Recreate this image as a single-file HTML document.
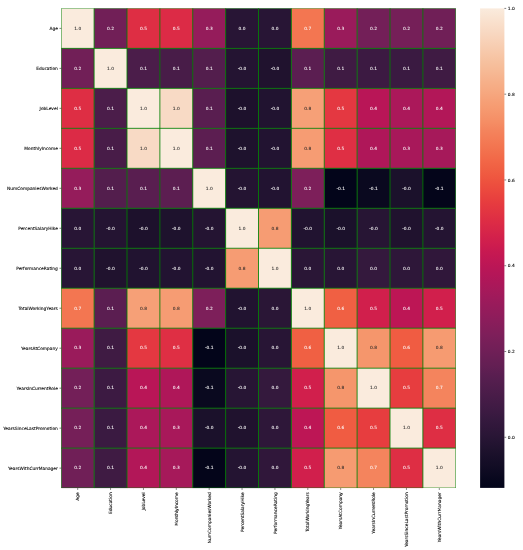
<!DOCTYPE html>
<html><head><meta charset="utf-8"><title>Correlation heatmap</title>
<style>html,body{margin:0;padding:0;background:#fff}svg{display:block}</style></head>
<body>
<svg width="523" height="550" viewBox="0 0 523 550">
<rect width="523" height="550" fill="#fff"/>
<g>
<rect x="61.25" y="8.40" width="33.17" height="40.27" fill="#faebdd"/>
<rect x="94.12" y="8.40" width="33.17" height="40.27" fill="#711f57"/>
<rect x="127.00" y="8.40" width="33.17" height="40.27" fill="#de2e44"/>
<rect x="159.88" y="8.40" width="33.17" height="40.27" fill="#dc2b46"/>
<rect x="192.75" y="8.40" width="33.17" height="40.27" fill="#951c5b"/>
<rect x="225.62" y="8.40" width="33.17" height="40.27" fill="#281535"/>
<rect x="258.50" y="8.40" width="33.17" height="40.27" fill="#281535"/>
<rect x="291.38" y="8.40" width="33.17" height="40.27" fill="#f37651"/>
<rect x="324.25" y="8.40" width="33.17" height="40.27" fill="#9a1b5b"/>
<rect x="357.12" y="8.40" width="33.17" height="40.27" fill="#731f58"/>
<rect x="390.00" y="8.40" width="33.17" height="40.27" fill="#751f58"/>
<rect x="422.88" y="8.40" width="32.88" height="40.27" fill="#701f57"/>
<rect x="61.25" y="48.38" width="33.17" height="40.27" fill="#711f57"/>
<rect x="94.12" y="48.38" width="33.17" height="40.27" fill="#faebdd"/>
<rect x="127.00" y="48.38" width="33.17" height="40.27" fill="#4b1d4a"/>
<rect x="159.88" y="48.38" width="33.17" height="40.27" fill="#481c48"/>
<rect x="192.75" y="48.38" width="33.17" height="40.27" fill="#531e4d"/>
<rect x="225.62" y="48.38" width="33.17" height="40.27" fill="#241432"/>
<rect x="258.50" y="48.38" width="33.17" height="40.27" fill="#20122e"/>
<rect x="291.38" y="48.38" width="33.17" height="40.27" fill="#5b1e51"/>
<rect x="324.25" y="48.38" width="33.17" height="40.27" fill="#3f1b43"/>
<rect x="357.12" y="48.38" width="33.17" height="40.27" fill="#3c1a42"/>
<rect x="390.00" y="48.38" width="33.17" height="40.27" fill="#3a1a41"/>
<rect x="422.88" y="48.38" width="32.88" height="40.27" fill="#3f1b43"/>
<rect x="61.25" y="88.35" width="33.17" height="40.27" fill="#de2e44"/>
<rect x="94.12" y="88.35" width="33.17" height="40.27" fill="#4b1d4a"/>
<rect x="127.00" y="88.35" width="33.17" height="40.27" fill="#faebdd"/>
<rect x="159.88" y="88.35" width="33.17" height="40.27" fill="#f8dac5"/>
<rect x="192.75" y="88.35" width="33.17" height="40.27" fill="#591e50"/>
<rect x="225.62" y="88.35" width="33.17" height="40.27" fill="#1d112c"/>
<rect x="258.50" y="88.35" width="33.17" height="40.27" fill="#211330"/>
<rect x="291.38" y="88.35" width="33.17" height="40.27" fill="#f6a077"/>
<rect x="324.25" y="88.35" width="33.17" height="40.27" fill="#e43841"/>
<rect x="357.12" y="88.35" width="33.17" height="40.27" fill="#b91657"/>
<rect x="390.00" y="88.35" width="33.17" height="40.27" fill="#ab185a"/>
<rect x="422.88" y="88.35" width="32.88" height="40.27" fill="#b21758"/>
<rect x="61.25" y="128.33" width="33.17" height="40.27" fill="#dc2b46"/>
<rect x="94.12" y="128.33" width="33.17" height="40.27" fill="#481c48"/>
<rect x="127.00" y="128.33" width="33.17" height="40.27" fill="#f8dac5"/>
<rect x="159.88" y="128.33" width="33.17" height="40.27" fill="#faebdd"/>
<rect x="192.75" y="128.33" width="33.17" height="40.27" fill="#5c1e51"/>
<rect x="225.62" y="128.33" width="33.17" height="40.27" fill="#1e122d"/>
<rect x="258.50" y="128.33" width="33.17" height="40.27" fill="#221331"/>
<rect x="291.38" y="128.33" width="33.17" height="40.27" fill="#f69c73"/>
<rect x="324.25" y="128.33" width="33.17" height="40.27" fill="#df2f44"/>
<rect x="357.12" y="128.33" width="33.17" height="40.27" fill="#af1759"/>
<rect x="390.00" y="128.33" width="33.17" height="40.27" fill="#a8185a"/>
<rect x="422.88" y="128.33" width="32.88" height="40.27" fill="#a6195a"/>
<rect x="61.25" y="168.30" width="33.17" height="40.27" fill="#951c5b"/>
<rect x="94.12" y="168.30" width="33.17" height="40.27" fill="#531e4d"/>
<rect x="127.00" y="168.30" width="33.17" height="40.27" fill="#591e50"/>
<rect x="159.88" y="168.30" width="33.17" height="40.27" fill="#5c1e51"/>
<rect x="192.75" y="168.30" width="33.17" height="40.27" fill="#faebdd"/>
<rect x="225.62" y="168.30" width="33.17" height="40.27" fill="#241432"/>
<rect x="258.50" y="168.30" width="33.17" height="40.27" fill="#221331"/>
<rect x="291.38" y="168.30" width="33.17" height="40.27" fill="#7d1f5a"/>
<rect x="324.25" y="168.30" width="33.17" height="40.27" fill="#03051a"/>
<rect x="357.12" y="168.30" width="33.17" height="40.27" fill="#0a091f"/>
<rect x="390.00" y="168.30" width="33.17" height="40.27" fill="#1b112b"/>
<rect x="422.88" y="168.30" width="32.88" height="40.27" fill="#04051a"/>
<rect x="61.25" y="208.28" width="33.17" height="40.27" fill="#281535"/>
<rect x="94.12" y="208.28" width="33.17" height="40.27" fill="#241432"/>
<rect x="127.00" y="208.28" width="33.17" height="40.27" fill="#1d112c"/>
<rect x="159.88" y="208.28" width="33.17" height="40.27" fill="#1e122d"/>
<rect x="192.75" y="208.28" width="33.17" height="40.27" fill="#241432"/>
<rect x="225.62" y="208.28" width="33.17" height="40.27" fill="#faebdd"/>
<rect x="258.50" y="208.28" width="33.17" height="40.27" fill="#f69c73"/>
<rect x="291.38" y="208.28" width="33.17" height="40.27" fill="#211330"/>
<rect x="324.25" y="208.28" width="33.17" height="40.27" fill="#1b112b"/>
<rect x="357.12" y="208.28" width="33.17" height="40.27" fill="#271534"/>
<rect x="390.00" y="208.28" width="33.17" height="40.27" fill="#20122e"/>
<rect x="422.88" y="208.28" width="32.88" height="40.27" fill="#241432"/>
<rect x="61.25" y="248.25" width="33.17" height="40.27" fill="#281535"/>
<rect x="94.12" y="248.25" width="33.17" height="40.27" fill="#20122e"/>
<rect x="127.00" y="248.25" width="33.17" height="40.27" fill="#211330"/>
<rect x="159.88" y="248.25" width="33.17" height="40.27" fill="#221331"/>
<rect x="192.75" y="248.25" width="33.17" height="40.27" fill="#221331"/>
<rect x="225.62" y="248.25" width="33.17" height="40.27" fill="#f69c73"/>
<rect x="258.50" y="248.25" width="33.17" height="40.27" fill="#faebdd"/>
<rect x="291.38" y="248.25" width="33.17" height="40.27" fill="#2a1636"/>
<rect x="324.25" y="248.25" width="33.17" height="40.27" fill="#281535"/>
<rect x="357.12" y="248.25" width="33.17" height="40.27" fill="#34193d"/>
<rect x="390.00" y="248.25" width="33.17" height="40.27" fill="#2e1739"/>
<rect x="422.88" y="248.25" width="32.88" height="40.27" fill="#30173a"/>
<rect x="61.25" y="288.22" width="33.17" height="40.27" fill="#f37651"/>
<rect x="94.12" y="288.22" width="33.17" height="40.27" fill="#5b1e51"/>
<rect x="127.00" y="288.22" width="33.17" height="40.27" fill="#f6a077"/>
<rect x="159.88" y="288.22" width="33.17" height="40.27" fill="#f69c73"/>
<rect x="192.75" y="288.22" width="33.17" height="40.27" fill="#7d1f5a"/>
<rect x="225.62" y="288.22" width="33.17" height="40.27" fill="#211330"/>
<rect x="258.50" y="288.22" width="33.17" height="40.27" fill="#2a1636"/>
<rect x="291.38" y="288.22" width="33.17" height="40.27" fill="#faebdd"/>
<rect x="324.25" y="288.22" width="33.17" height="40.27" fill="#f06043"/>
<rect x="357.12" y="288.22" width="33.17" height="40.27" fill="#d11f4c"/>
<rect x="390.00" y="288.22" width="33.17" height="40.27" fill="#bd1655"/>
<rect x="422.88" y="288.22" width="32.88" height="40.27" fill="#d11f4c"/>
<rect x="61.25" y="328.20" width="33.17" height="40.27" fill="#9a1b5b"/>
<rect x="94.12" y="328.20" width="33.17" height="40.27" fill="#3f1b43"/>
<rect x="127.00" y="328.20" width="33.17" height="40.27" fill="#e43841"/>
<rect x="159.88" y="328.20" width="33.17" height="40.27" fill="#df2f44"/>
<rect x="192.75" y="328.20" width="33.17" height="40.27" fill="#03051a"/>
<rect x="225.62" y="328.20" width="33.17" height="40.27" fill="#1b112b"/>
<rect x="258.50" y="328.20" width="33.17" height="40.27" fill="#281535"/>
<rect x="291.38" y="328.20" width="33.17" height="40.27" fill="#f06043"/>
<rect x="324.25" y="328.20" width="33.17" height="40.27" fill="#faebdd"/>
<rect x="357.12" y="328.20" width="33.17" height="40.27" fill="#f5966c"/>
<rect x="390.00" y="328.20" width="33.17" height="40.27" fill="#f05c42"/>
<rect x="422.88" y="328.20" width="32.88" height="40.27" fill="#f69b71"/>
<rect x="61.25" y="368.18" width="33.17" height="40.27" fill="#731f58"/>
<rect x="94.12" y="368.18" width="33.17" height="40.27" fill="#3c1a42"/>
<rect x="127.00" y="368.18" width="33.17" height="40.27" fill="#b91657"/>
<rect x="159.88" y="368.18" width="33.17" height="40.27" fill="#af1759"/>
<rect x="192.75" y="368.18" width="33.17" height="40.27" fill="#0a091f"/>
<rect x="225.62" y="368.18" width="33.17" height="40.27" fill="#271534"/>
<rect x="258.50" y="368.18" width="33.17" height="40.27" fill="#34193d"/>
<rect x="291.38" y="368.18" width="33.17" height="40.27" fill="#d11f4c"/>
<rect x="324.25" y="368.18" width="33.17" height="40.27" fill="#f5966c"/>
<rect x="357.12" y="368.18" width="33.17" height="40.27" fill="#faebdd"/>
<rect x="390.00" y="368.18" width="33.17" height="40.27" fill="#e73d3f"/>
<rect x="422.88" y="368.18" width="32.88" height="40.27" fill="#f4845d"/>
<rect x="61.25" y="408.15" width="33.17" height="40.27" fill="#751f58"/>
<rect x="94.12" y="408.15" width="33.17" height="40.27" fill="#3a1a41"/>
<rect x="127.00" y="408.15" width="33.17" height="40.27" fill="#ab185a"/>
<rect x="159.88" y="408.15" width="33.17" height="40.27" fill="#a8185a"/>
<rect x="192.75" y="408.15" width="33.17" height="40.27" fill="#1b112b"/>
<rect x="225.62" y="408.15" width="33.17" height="40.27" fill="#20122e"/>
<rect x="258.50" y="408.15" width="33.17" height="40.27" fill="#2e1739"/>
<rect x="291.38" y="408.15" width="33.17" height="40.27" fill="#bd1655"/>
<rect x="324.25" y="408.15" width="33.17" height="40.27" fill="#f05c42"/>
<rect x="357.12" y="408.15" width="33.17" height="40.27" fill="#e73d3f"/>
<rect x="390.00" y="408.15" width="33.17" height="40.27" fill="#faebdd"/>
<rect x="422.88" y="408.15" width="32.88" height="40.27" fill="#de2e44"/>
<rect x="61.25" y="448.12" width="33.17" height="39.98" fill="#701f57"/>
<rect x="94.12" y="448.12" width="33.17" height="39.98" fill="#3f1b43"/>
<rect x="127.00" y="448.12" width="33.17" height="39.98" fill="#b21758"/>
<rect x="159.88" y="448.12" width="33.17" height="39.98" fill="#a6195a"/>
<rect x="192.75" y="448.12" width="33.17" height="39.98" fill="#04051a"/>
<rect x="225.62" y="448.12" width="33.17" height="39.98" fill="#241432"/>
<rect x="258.50" y="448.12" width="33.17" height="39.98" fill="#30173a"/>
<rect x="291.38" y="448.12" width="33.17" height="39.98" fill="#d11f4c"/>
<rect x="324.25" y="448.12" width="33.17" height="39.98" fill="#f69b71"/>
<rect x="357.12" y="448.12" width="33.17" height="39.98" fill="#f4845d"/>
<rect x="390.00" y="448.12" width="33.17" height="39.98" fill="#de2e44"/>
<rect x="422.88" y="448.12" width="32.88" height="39.98" fill="#faebdd"/>
</g>
<defs><clipPath id="gc"><rect x="61.25" y="8.40" width="394.50" height="479.70"/></clipPath></defs>
<g stroke="#008000" stroke-width="0.85" fill="none" stroke-linecap="square" clip-path="url(#gc)">
<line x1="61.25" y1="8.40" x2="61.25" y2="488.10"/>
<line x1="61.25" y1="8.40" x2="455.75" y2="8.40"/>
<line x1="94.12" y1="8.40" x2="94.12" y2="488.10"/>
<line x1="61.25" y1="48.38" x2="455.75" y2="48.38"/>
<line x1="127.00" y1="8.40" x2="127.00" y2="488.10"/>
<line x1="61.25" y1="88.35" x2="455.75" y2="88.35"/>
<line x1="159.88" y1="8.40" x2="159.88" y2="488.10"/>
<line x1="61.25" y1="128.33" x2="455.75" y2="128.33"/>
<line x1="192.75" y1="8.40" x2="192.75" y2="488.10"/>
<line x1="61.25" y1="168.30" x2="455.75" y2="168.30"/>
<line x1="225.62" y1="8.40" x2="225.62" y2="488.10"/>
<line x1="61.25" y1="208.28" x2="455.75" y2="208.28"/>
<line x1="258.50" y1="8.40" x2="258.50" y2="488.10"/>
<line x1="61.25" y1="248.25" x2="455.75" y2="248.25"/>
<line x1="291.38" y1="8.40" x2="291.38" y2="488.10"/>
<line x1="61.25" y1="288.22" x2="455.75" y2="288.22"/>
<line x1="324.25" y1="8.40" x2="324.25" y2="488.10"/>
<line x1="61.25" y1="328.20" x2="455.75" y2="328.20"/>
<line x1="357.12" y1="8.40" x2="357.12" y2="488.10"/>
<line x1="61.25" y1="368.18" x2="455.75" y2="368.18"/>
<line x1="390.00" y1="8.40" x2="390.00" y2="488.10"/>
<line x1="61.25" y1="408.15" x2="455.75" y2="408.15"/>
<line x1="422.88" y1="8.40" x2="422.88" y2="488.10"/>
<line x1="61.25" y1="448.12" x2="455.75" y2="448.12"/>
<line x1="455.75" y1="8.40" x2="455.75" y2="488.10"/>
<line x1="61.25" y1="488.10" x2="455.75" y2="488.10"/>
</g>
<g font-family="DejaVu Sans, Liberation Sans, sans-serif" text-rendering="geometricPrecision" font-size="4.36" text-anchor="middle" stroke-width="0.05">
<text x="77.69" y="29.68" fill="#262626" stroke="#262626">1.0</text>
<text x="110.56" y="29.68" fill="#ffffff" stroke="#ffffff">0.2</text>
<text x="143.44" y="29.68" fill="#ffffff" stroke="#ffffff">0.5</text>
<text x="176.31" y="29.68" fill="#ffffff" stroke="#ffffff">0.5</text>
<text x="209.19" y="29.68" fill="#ffffff" stroke="#ffffff">0.3</text>
<text x="242.06" y="29.68" fill="#ffffff" stroke="#ffffff">0.0</text>
<text x="274.94" y="29.68" fill="#ffffff" stroke="#ffffff">0.0</text>
<text x="307.81" y="29.68" fill="#ffffff" stroke="#ffffff">0.7</text>
<text x="340.69" y="29.68" fill="#ffffff" stroke="#ffffff">0.3</text>
<text x="373.56" y="29.68" fill="#ffffff" stroke="#ffffff">0.2</text>
<text x="406.44" y="29.68" fill="#ffffff" stroke="#ffffff">0.2</text>
<text x="439.31" y="29.68" fill="#ffffff" stroke="#ffffff">0.2</text>
<text x="77.69" y="69.65" fill="#ffffff" stroke="#ffffff">0.2</text>
<text x="110.56" y="69.65" fill="#262626" stroke="#262626">1.0</text>
<text x="143.44" y="69.65" fill="#ffffff" stroke="#ffffff">0.1</text>
<text x="176.31" y="69.65" fill="#ffffff" stroke="#ffffff">0.1</text>
<text x="209.19" y="69.65" fill="#ffffff" stroke="#ffffff">0.1</text>
<text x="242.06" y="69.65" fill="#ffffff" stroke="#ffffff">-0.0</text>
<text x="274.94" y="69.65" fill="#ffffff" stroke="#ffffff">-0.0</text>
<text x="307.81" y="69.65" fill="#ffffff" stroke="#ffffff">0.1</text>
<text x="340.69" y="69.65" fill="#ffffff" stroke="#ffffff">0.1</text>
<text x="373.56" y="69.65" fill="#ffffff" stroke="#ffffff">0.1</text>
<text x="406.44" y="69.65" fill="#ffffff" stroke="#ffffff">0.1</text>
<text x="439.31" y="69.65" fill="#ffffff" stroke="#ffffff">0.1</text>
<text x="77.69" y="109.63" fill="#ffffff" stroke="#ffffff">0.5</text>
<text x="110.56" y="109.63" fill="#ffffff" stroke="#ffffff">0.1</text>
<text x="143.44" y="109.63" fill="#262626" stroke="#262626">1.0</text>
<text x="176.31" y="109.63" fill="#262626" stroke="#262626">1.0</text>
<text x="209.19" y="109.63" fill="#ffffff" stroke="#ffffff">0.1</text>
<text x="242.06" y="109.63" fill="#ffffff" stroke="#ffffff">-0.0</text>
<text x="274.94" y="109.63" fill="#ffffff" stroke="#ffffff">-0.0</text>
<text x="307.81" y="109.63" fill="#262626" stroke="#262626">0.8</text>
<text x="340.69" y="109.63" fill="#ffffff" stroke="#ffffff">0.5</text>
<text x="373.56" y="109.63" fill="#ffffff" stroke="#ffffff">0.4</text>
<text x="406.44" y="109.63" fill="#ffffff" stroke="#ffffff">0.4</text>
<text x="439.31" y="109.63" fill="#ffffff" stroke="#ffffff">0.4</text>
<text x="77.69" y="149.60" fill="#ffffff" stroke="#ffffff">0.5</text>
<text x="110.56" y="149.60" fill="#ffffff" stroke="#ffffff">0.1</text>
<text x="143.44" y="149.60" fill="#262626" stroke="#262626">1.0</text>
<text x="176.31" y="149.60" fill="#262626" stroke="#262626">1.0</text>
<text x="209.19" y="149.60" fill="#ffffff" stroke="#ffffff">0.1</text>
<text x="242.06" y="149.60" fill="#ffffff" stroke="#ffffff">-0.0</text>
<text x="274.94" y="149.60" fill="#ffffff" stroke="#ffffff">-0.0</text>
<text x="307.81" y="149.60" fill="#262626" stroke="#262626">0.8</text>
<text x="340.69" y="149.60" fill="#ffffff" stroke="#ffffff">0.5</text>
<text x="373.56" y="149.60" fill="#ffffff" stroke="#ffffff">0.4</text>
<text x="406.44" y="149.60" fill="#ffffff" stroke="#ffffff">0.3</text>
<text x="439.31" y="149.60" fill="#ffffff" stroke="#ffffff">0.3</text>
<text x="77.69" y="189.58" fill="#ffffff" stroke="#ffffff">0.3</text>
<text x="110.56" y="189.58" fill="#ffffff" stroke="#ffffff">0.1</text>
<text x="143.44" y="189.58" fill="#ffffff" stroke="#ffffff">0.1</text>
<text x="176.31" y="189.58" fill="#ffffff" stroke="#ffffff">0.1</text>
<text x="209.19" y="189.58" fill="#262626" stroke="#262626">1.0</text>
<text x="242.06" y="189.58" fill="#ffffff" stroke="#ffffff">-0.0</text>
<text x="274.94" y="189.58" fill="#ffffff" stroke="#ffffff">-0.0</text>
<text x="307.81" y="189.58" fill="#ffffff" stroke="#ffffff">0.2</text>
<text x="340.69" y="189.58" fill="#ffffff" stroke="#ffffff">-0.1</text>
<text x="373.56" y="189.58" fill="#ffffff" stroke="#ffffff">-0.1</text>
<text x="406.44" y="189.58" fill="#ffffff" stroke="#ffffff">-0.0</text>
<text x="439.31" y="189.58" fill="#ffffff" stroke="#ffffff">-0.1</text>
<text x="77.69" y="229.55" fill="#ffffff" stroke="#ffffff">0.0</text>
<text x="110.56" y="229.55" fill="#ffffff" stroke="#ffffff">-0.0</text>
<text x="143.44" y="229.55" fill="#ffffff" stroke="#ffffff">-0.0</text>
<text x="176.31" y="229.55" fill="#ffffff" stroke="#ffffff">-0.0</text>
<text x="209.19" y="229.55" fill="#ffffff" stroke="#ffffff">-0.0</text>
<text x="242.06" y="229.55" fill="#262626" stroke="#262626">1.0</text>
<text x="274.94" y="229.55" fill="#262626" stroke="#262626">0.8</text>
<text x="307.81" y="229.55" fill="#ffffff" stroke="#ffffff">-0.0</text>
<text x="340.69" y="229.55" fill="#ffffff" stroke="#ffffff">-0.0</text>
<text x="373.56" y="229.55" fill="#ffffff" stroke="#ffffff">-0.0</text>
<text x="406.44" y="229.55" fill="#ffffff" stroke="#ffffff">-0.0</text>
<text x="439.31" y="229.55" fill="#ffffff" stroke="#ffffff">-0.0</text>
<text x="77.69" y="269.53" fill="#ffffff" stroke="#ffffff">0.0</text>
<text x="110.56" y="269.53" fill="#ffffff" stroke="#ffffff">-0.0</text>
<text x="143.44" y="269.53" fill="#ffffff" stroke="#ffffff">-0.0</text>
<text x="176.31" y="269.53" fill="#ffffff" stroke="#ffffff">-0.0</text>
<text x="209.19" y="269.53" fill="#ffffff" stroke="#ffffff">-0.0</text>
<text x="242.06" y="269.53" fill="#262626" stroke="#262626">0.8</text>
<text x="274.94" y="269.53" fill="#262626" stroke="#262626">1.0</text>
<text x="307.81" y="269.53" fill="#ffffff" stroke="#ffffff">0.0</text>
<text x="340.69" y="269.53" fill="#ffffff" stroke="#ffffff">0.0</text>
<text x="373.56" y="269.53" fill="#ffffff" stroke="#ffffff">0.0</text>
<text x="406.44" y="269.53" fill="#ffffff" stroke="#ffffff">0.0</text>
<text x="439.31" y="269.53" fill="#ffffff" stroke="#ffffff">0.0</text>
<text x="77.69" y="309.50" fill="#ffffff" stroke="#ffffff">0.7</text>
<text x="110.56" y="309.50" fill="#ffffff" stroke="#ffffff">0.1</text>
<text x="143.44" y="309.50" fill="#262626" stroke="#262626">0.8</text>
<text x="176.31" y="309.50" fill="#262626" stroke="#262626">0.8</text>
<text x="209.19" y="309.50" fill="#ffffff" stroke="#ffffff">0.2</text>
<text x="242.06" y="309.50" fill="#ffffff" stroke="#ffffff">-0.0</text>
<text x="274.94" y="309.50" fill="#ffffff" stroke="#ffffff">0.0</text>
<text x="307.81" y="309.50" fill="#262626" stroke="#262626">1.0</text>
<text x="340.69" y="309.50" fill="#ffffff" stroke="#ffffff">0.6</text>
<text x="373.56" y="309.50" fill="#ffffff" stroke="#ffffff">0.5</text>
<text x="406.44" y="309.50" fill="#ffffff" stroke="#ffffff">0.4</text>
<text x="439.31" y="309.50" fill="#ffffff" stroke="#ffffff">0.5</text>
<text x="77.69" y="349.48" fill="#ffffff" stroke="#ffffff">0.3</text>
<text x="110.56" y="349.48" fill="#ffffff" stroke="#ffffff">0.1</text>
<text x="143.44" y="349.48" fill="#ffffff" stroke="#ffffff">0.5</text>
<text x="176.31" y="349.48" fill="#ffffff" stroke="#ffffff">0.5</text>
<text x="209.19" y="349.48" fill="#ffffff" stroke="#ffffff">-0.1</text>
<text x="242.06" y="349.48" fill="#ffffff" stroke="#ffffff">-0.0</text>
<text x="274.94" y="349.48" fill="#ffffff" stroke="#ffffff">0.0</text>
<text x="307.81" y="349.48" fill="#ffffff" stroke="#ffffff">0.6</text>
<text x="340.69" y="349.48" fill="#262626" stroke="#262626">1.0</text>
<text x="373.56" y="349.48" fill="#262626" stroke="#262626">0.8</text>
<text x="406.44" y="349.48" fill="#ffffff" stroke="#ffffff">0.6</text>
<text x="439.31" y="349.48" fill="#262626" stroke="#262626">0.8</text>
<text x="77.69" y="389.45" fill="#ffffff" stroke="#ffffff">0.2</text>
<text x="110.56" y="389.45" fill="#ffffff" stroke="#ffffff">0.1</text>
<text x="143.44" y="389.45" fill="#ffffff" stroke="#ffffff">0.4</text>
<text x="176.31" y="389.45" fill="#ffffff" stroke="#ffffff">0.4</text>
<text x="209.19" y="389.45" fill="#ffffff" stroke="#ffffff">-0.1</text>
<text x="242.06" y="389.45" fill="#ffffff" stroke="#ffffff">-0.0</text>
<text x="274.94" y="389.45" fill="#ffffff" stroke="#ffffff">0.0</text>
<text x="307.81" y="389.45" fill="#ffffff" stroke="#ffffff">0.5</text>
<text x="340.69" y="389.45" fill="#262626" stroke="#262626">0.8</text>
<text x="373.56" y="389.45" fill="#262626" stroke="#262626">1.0</text>
<text x="406.44" y="389.45" fill="#ffffff" stroke="#ffffff">0.5</text>
<text x="439.31" y="389.45" fill="#ffffff" stroke="#ffffff">0.7</text>
<text x="77.69" y="429.43" fill="#ffffff" stroke="#ffffff">0.2</text>
<text x="110.56" y="429.43" fill="#ffffff" stroke="#ffffff">0.1</text>
<text x="143.44" y="429.43" fill="#ffffff" stroke="#ffffff">0.4</text>
<text x="176.31" y="429.43" fill="#ffffff" stroke="#ffffff">0.3</text>
<text x="209.19" y="429.43" fill="#ffffff" stroke="#ffffff">-0.0</text>
<text x="242.06" y="429.43" fill="#ffffff" stroke="#ffffff">-0.0</text>
<text x="274.94" y="429.43" fill="#ffffff" stroke="#ffffff">0.0</text>
<text x="307.81" y="429.43" fill="#ffffff" stroke="#ffffff">0.4</text>
<text x="340.69" y="429.43" fill="#ffffff" stroke="#ffffff">0.6</text>
<text x="373.56" y="429.43" fill="#ffffff" stroke="#ffffff">0.5</text>
<text x="406.44" y="429.43" fill="#262626" stroke="#262626">1.0</text>
<text x="439.31" y="429.43" fill="#ffffff" stroke="#ffffff">0.5</text>
<text x="77.69" y="469.40" fill="#ffffff" stroke="#ffffff">0.2</text>
<text x="110.56" y="469.40" fill="#ffffff" stroke="#ffffff">0.1</text>
<text x="143.44" y="469.40" fill="#ffffff" stroke="#ffffff">0.4</text>
<text x="176.31" y="469.40" fill="#ffffff" stroke="#ffffff">0.3</text>
<text x="209.19" y="469.40" fill="#ffffff" stroke="#ffffff">-0.1</text>
<text x="242.06" y="469.40" fill="#ffffff" stroke="#ffffff">-0.0</text>
<text x="274.94" y="469.40" fill="#ffffff" stroke="#ffffff">0.0</text>
<text x="307.81" y="469.40" fill="#ffffff" stroke="#ffffff">0.5</text>
<text x="340.69" y="469.40" fill="#262626" stroke="#262626">0.8</text>
<text x="373.56" y="469.40" fill="#ffffff" stroke="#ffffff">0.7</text>
<text x="406.44" y="469.40" fill="#ffffff" stroke="#ffffff">0.5</text>
<text x="439.31" y="469.40" fill="#262626" stroke="#262626">1.0</text>
</g>
<g stroke="#000" stroke-width="0.5">
<line x1="59.45" y1="28.39" x2="61.25" y2="28.39"/>
<line x1="77.69" y1="488.10" x2="77.69" y2="489.90"/>
<line x1="59.45" y1="68.36" x2="61.25" y2="68.36"/>
<line x1="110.56" y1="488.10" x2="110.56" y2="489.90"/>
<line x1="59.45" y1="108.34" x2="61.25" y2="108.34"/>
<line x1="143.44" y1="488.10" x2="143.44" y2="489.90"/>
<line x1="59.45" y1="148.31" x2="61.25" y2="148.31"/>
<line x1="176.31" y1="488.10" x2="176.31" y2="489.90"/>
<line x1="59.45" y1="188.29" x2="61.25" y2="188.29"/>
<line x1="209.19" y1="488.10" x2="209.19" y2="489.90"/>
<line x1="59.45" y1="228.26" x2="61.25" y2="228.26"/>
<line x1="242.06" y1="488.10" x2="242.06" y2="489.90"/>
<line x1="59.45" y1="268.24" x2="61.25" y2="268.24"/>
<line x1="274.94" y1="488.10" x2="274.94" y2="489.90"/>
<line x1="59.45" y1="308.21" x2="61.25" y2="308.21"/>
<line x1="307.81" y1="488.10" x2="307.81" y2="489.90"/>
<line x1="59.45" y1="348.19" x2="61.25" y2="348.19"/>
<line x1="340.69" y1="488.10" x2="340.69" y2="489.90"/>
<line x1="59.45" y1="388.16" x2="61.25" y2="388.16"/>
<line x1="373.56" y1="488.10" x2="373.56" y2="489.90"/>
<line x1="59.45" y1="428.14" x2="61.25" y2="428.14"/>
<line x1="406.44" y1="488.10" x2="406.44" y2="489.90"/>
<line x1="59.45" y1="468.11" x2="61.25" y2="468.11"/>
<line x1="439.31" y1="488.10" x2="439.31" y2="489.90"/>
</g>
<g font-family="DejaVu Sans, Liberation Sans, sans-serif" text-rendering="geometricPrecision" font-size="4.36" fill="#000" stroke="#000" stroke-width="0.08">
<text x="57.85" y="29.96" text-anchor="end">Age</text>
<text transform="translate(79.26,492.30) rotate(-90)" text-anchor="end">Age</text>
<text x="57.85" y="69.93" text-anchor="end">Education</text>
<text transform="translate(112.13,492.30) rotate(-90)" text-anchor="end">Education</text>
<text x="57.85" y="109.91" text-anchor="end">JobLevel</text>
<text transform="translate(145.01,492.30) rotate(-90)" text-anchor="end">JobLevel</text>
<text x="57.85" y="149.88" text-anchor="end">MonthlyIncome</text>
<text transform="translate(177.88,492.30) rotate(-90)" text-anchor="end">MonthlyIncome</text>
<text x="57.85" y="189.86" text-anchor="end">NumCompaniesWorked</text>
<text transform="translate(210.76,492.30) rotate(-90)" text-anchor="end">NumCompaniesWorked</text>
<text x="57.85" y="229.83" text-anchor="end">PercentSalaryHike</text>
<text transform="translate(243.63,492.30) rotate(-90)" text-anchor="end">PercentSalaryHike</text>
<text x="57.85" y="269.81" text-anchor="end">PerformanceRating</text>
<text transform="translate(276.51,492.30) rotate(-90)" text-anchor="end">PerformanceRating</text>
<text x="57.85" y="309.78" text-anchor="end">TotalWorkingYears</text>
<text transform="translate(309.38,492.30) rotate(-90)" text-anchor="end">TotalWorkingYears</text>
<text x="57.85" y="349.76" text-anchor="end">YearsAtCompany</text>
<text transform="translate(342.26,492.30) rotate(-90)" text-anchor="end">YearsAtCompany</text>
<text x="57.85" y="389.73" text-anchor="end">YearsInCurrentRole</text>
<text transform="translate(375.13,492.30) rotate(-90)" text-anchor="end">YearsInCurrentRole</text>
<text x="57.85" y="429.71" text-anchor="end">YearsSinceLastPromotion</text>
<text transform="translate(408.01,492.30) rotate(-90)" text-anchor="end">YearsSinceLastPromotion</text>
<text x="57.85" y="469.68" text-anchor="end">YearsWithCurrManager</text>
<text transform="translate(440.88,492.30) rotate(-90)" text-anchor="end">YearsWithCurrManager</text>
</g>
<defs><linearGradient id="cb" x1="0" y1="0" x2="0" y2="1"><stop offset="0.0000" stop-color="#faebdd"/><stop offset="0.0159" stop-color="#f9e5d4"/><stop offset="0.0317" stop-color="#f9dfcb"/><stop offset="0.0476" stop-color="#f8d9c3"/><stop offset="0.0635" stop-color="#f8d3ba"/><stop offset="0.0794" stop-color="#f7cdb1"/><stop offset="0.0952" stop-color="#f7c7a8"/><stop offset="0.1111" stop-color="#f6c19f"/><stop offset="0.1270" stop-color="#f6bb97"/><stop offset="0.1429" stop-color="#f6b48f"/><stop offset="0.1587" stop-color="#f6ae87"/><stop offset="0.1746" stop-color="#f6a880"/><stop offset="0.1905" stop-color="#f6a178"/><stop offset="0.2063" stop-color="#f69b71"/><stop offset="0.2222" stop-color="#f5946b"/><stop offset="0.2381" stop-color="#f58d64"/><stop offset="0.2540" stop-color="#f4845d"/><stop offset="0.2698" stop-color="#f47d57"/><stop offset="0.2857" stop-color="#f37651"/><stop offset="0.3016" stop-color="#f26f4c"/><stop offset="0.3175" stop-color="#f26747"/><stop offset="0.3333" stop-color="#f06043"/><stop offset="0.3492" stop-color="#ef5840"/><stop offset="0.3651" stop-color="#ed503e"/><stop offset="0.3810" stop-color="#eb483e"/><stop offset="0.3968" stop-color="#e8403e"/><stop offset="0.4127" stop-color="#e53940"/><stop offset="0.4286" stop-color="#e13342"/><stop offset="0.4444" stop-color="#dd2c45"/><stop offset="0.4603" stop-color="#d82748"/><stop offset="0.4762" stop-color="#d3214b"/><stop offset="0.4921" stop-color="#ce1d4e"/><stop offset="0.5079" stop-color="#c71951"/><stop offset="0.5238" stop-color="#c11754"/><stop offset="0.5397" stop-color="#ba1656"/><stop offset="0.5556" stop-color="#b41658"/><stop offset="0.5714" stop-color="#ad1759"/><stop offset="0.5873" stop-color="#a6195a"/><stop offset="0.6032" stop-color="#9f1a5b"/><stop offset="0.6190" stop-color="#981b5b"/><stop offset="0.6349" stop-color="#921c5b"/><stop offset="0.6508" stop-color="#8b1d5b"/><stop offset="0.6667" stop-color="#841e5a"/><stop offset="0.6825" stop-color="#7d1f5a"/><stop offset="0.6984" stop-color="#761f58"/><stop offset="0.7143" stop-color="#701f57"/><stop offset="0.7302" stop-color="#691f55"/><stop offset="0.7460" stop-color="#631f53"/><stop offset="0.7619" stop-color="#5b1e51"/><stop offset="0.7778" stop-color="#541e4e"/><stop offset="0.7937" stop-color="#4e1d4b"/><stop offset="0.8095" stop-color="#481c48"/><stop offset="0.8254" stop-color="#421b45"/><stop offset="0.8413" stop-color="#3c1a42"/><stop offset="0.8571" stop-color="#35193e"/><stop offset="0.8730" stop-color="#30173a"/><stop offset="0.8889" stop-color="#2a1636"/><stop offset="0.9048" stop-color="#241432"/><stop offset="0.9206" stop-color="#1e122d"/><stop offset="0.9365" stop-color="#180f29"/><stop offset="0.9524" stop-color="#130d25"/><stop offset="0.9683" stop-color="#0d0a21"/><stop offset="0.9841" stop-color="#07071d"/><stop offset="1.0000" stop-color="#03051a"/></linearGradient></defs>
<rect x="480.10" y="8.40" width="24.30" height="479.50" fill="url(#cb)"/>
<g stroke="#000" stroke-width="0.5">
<line x1="504.40" y1="437.29" x2="506.20" y2="437.29"/>
<line x1="504.40" y1="351.51" x2="506.20" y2="351.51"/>
<line x1="504.40" y1="265.73" x2="506.20" y2="265.73"/>
<line x1="504.40" y1="179.96" x2="506.20" y2="179.96"/>
<line x1="504.40" y1="94.18" x2="506.20" y2="94.18"/>
<line x1="504.40" y1="8.40" x2="506.20" y2="8.40"/>
</g>
<g font-family="DejaVu Sans, Liberation Sans, sans-serif" text-rendering="geometricPrecision" font-size="4.36" fill="#000" stroke="#000" stroke-width="0.08">
<text x="507.80" y="438.86">0.0</text>
<text x="507.80" y="353.08">0.2</text>
<text x="507.80" y="267.30">0.4</text>
<text x="507.80" y="181.53">0.6</text>
<text x="507.80" y="95.75">0.8</text>
<text x="507.80" y="9.97">1.0</text>
</g>
</svg>
</body></html>
